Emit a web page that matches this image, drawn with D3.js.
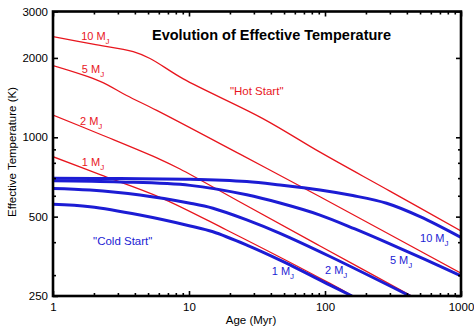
<!DOCTYPE html>
<html>
<head>
<meta charset="utf-8">
<script src="https://cdnjs.cloudflare.com/ajax/libs/d3/7.8.5/d3.min.js"></script>
<style>
  body { margin: 0; background: #fff; }
  svg text { font-family: "Liberation Sans", Arial, Helvetica, sans-serif; }
</style>
</head>
<body>
<div id="chart"></div>
<script>
// cooling tracks, each point is [age (Myr), Teff (K)]
const hot10 = [[1, 2408], [1.97, 2255], [3.89, 2113], [5.17, 1990], [9.08, 1665], [35.2, 1175], [91.9, 878], [300, 625], [1000, 441]]
const hot5 = [[1, 1870], [2.22, 1630], [3.48, 1440], [5.79, 1265], [23.7, 863], [91.9, 595], [1000, 305]]
const hot2 = [[1, 1215], [2.22, 1027], [6.12, 825], [8.59, 758], [23.7, 568], [91.9, 387], [434, 250]]
const hot1 = [[1, 844], [2.22, 722], [6.12, 592], [18.9, 445], [108.8, 279], [160, 250]]

const cold10 = [[1, 699], [3.11, 697], [10.2, 693], [26.6, 679], [46.7, 659], [91.9, 631], [160, 601], [284, 562], [500, 500], [1000, 417]]
const cold5 = [[1, 684], [3.11, 677], [10.2, 657], [26.6, 605], [46.7, 563], [91.9, 507], [166, 449], [300, 394], [543, 344], [1000, 298]]
const cold2 = [[1, 640], [1.87, 631], [4.36, 604], [10.2, 562], [15.0, 538], [26.6, 486], [46.7, 432], [108.8, 353], [422, 250]]
const cold1 = [[1, 557], [1.87, 545], [4.36, 507], [10.2, 461], [15.0, 438], [26.6, 390], [46.7, 342], [108.8, 275], [158, 250]]

// mass labels, anchored at [age, Teff] of the text start
const hotLabels = [
  { mass: "10", age: 1.61, temp: 2342 },
  { mass: "5", age: 1.63, temp: 1754 },
  { mass: "2", age: 1.58, temp: 1113 },
  { mass: "1", age: 1.63, temp: 778 }
]
const coldLabels = [
  { mass: "10", age: 500, temp: 402 },
  { mass: "5", age: 300, temp: 332 },
  { mass: "2", age: 100, temp: 303 },
  { mass: "1", age: 40.6, temp: 300 }
]

const ageTicks = [1, 10, 100, 1000]
const tempTicks = [250, 500, 1000, 2000, 3000]
const tempMinor = [300, 400, 600, 700, 800, 900]

const red = "#e8161e"
const blue = "#1c1cd4"

const width = 474
const height = 331
const margin = { top: 11.5, right: 13, bottom: 35, left: 53 }

const svg = d3.select("#chart")
  .append("svg")
  .attr("width", width)
  .attr("height", height)

const x = d3.scaleLog()
  .domain([1, 1000])
  .range([margin.left, width - margin.right])
const y = d3.scaleLog()
  .domain([250, 3000])
  .range([height - margin.bottom, margin.top])

// minor age ticks 2..9 in each decade
const ageMinor = []
for (const dec of [1, 10, 100]) {
  for (let k = 2; k <= 9; k++) ageMinor.push(dec * k)
}

svg.append("clipPath")
  .attr("id", "plot")
  .append("rect")
  .attr("x", x(1))
  .attr("y", y(3000))
  .attr("width", x(1000) - x(1))
  .attr("height", y(250) - y(3000))

const line = d3.line()
  .x(d => x(d[0]))
  .y(d => y(d[1]))
  .curve(d3.curveCatmullRom.alpha(0.5))

const tracks = svg.append("g").attr("clip-path", "url(#plot)")

tracks.selectAll(".hot")
  .data([hot10, hot5, hot2, hot1])
  .join("path")
  .attr("class", "hot")
  .attr("d", line)
  .attr("fill", "none")
  .attr("stroke", red)
  .attr("stroke-width", 1.3)

tracks.selectAll(".cold")
  .data([cold10, cold5, cold2, cold1])
  .join("path")
  .attr("class", "cold")
  .attr("d", line)
  .attr("fill", "none")
  .attr("stroke", blue)
  .attr("stroke-width", 3)

// axes: ticks point inward
function ticks(axis, values, size, transform) {
  const g = svg.append("g")
    .attr("transform", transform)
    .call(axis.tickValues(values).tickSize(size).tickFormat(""))
  g.select(".domain").remove()
  g.selectAll("line").attr("stroke", "#000").attr("stroke-width", 1.6)
  return g
}
const bottomY = `translate(0,${y(250)})`
const topY = `translate(0,${y(3000)})`
const leftX = `translate(${x(1)},0)`
const rightX = `translate(${x(1000)},0)`

ticks(d3.axisBottom(x), ageTicks, -5, bottomY)
ticks(d3.axisBottom(x), ageMinor, -3, bottomY)
ticks(d3.axisTop(x), ageTicks, -5, topY)
ticks(d3.axisTop(x), ageMinor, -3, topY)
ticks(d3.axisLeft(y), tempTicks, -5, leftX)
ticks(d3.axisLeft(y), tempMinor, -3, leftX)
ticks(d3.axisRight(y), tempTicks, -5, rightX)
ticks(d3.axisRight(y), tempMinor, -3, rightX)

// tick labels
svg.append("g")
  .attr("transform", bottomY)
  .call(d3.axisBottom(x).tickValues(ageTicks).tickSize(0).tickPadding(7).tickFormat(d3.format("d")))
  .call(g => g.select(".domain").remove())
  .selectAll("text")
  .attr("font-size", 11.5)
  .attr("font-family", null)
  .attr("fill", "#000")

svg.append("g")
  .attr("transform", leftX)
  .call(d3.axisLeft(y).tickValues(tempTicks).tickSize(0).tickPadding(5).tickFormat(d3.format("d")))
  .call(g => g.select(".domain").remove())
  .selectAll("text")
  .attr("font-size", 11.5)
  .attr("font-family", null)
  .attr("fill", "#000")

// frame
svg.append("rect")
  .attr("x", x(1))
  .attr("y", y(3000))
  .attr("width", x(1000) - x(1))
  .attr("height", y(250) - y(3000))
  .attr("fill", "none")
  .attr("stroke", "#000")
  .attr("stroke-width", 2.6)

// "10 M_J" style labels
function massLabel(sel, color) {
  sel.attr("x", d => x(d.age))
    .attr("y", d => y(d.temp))
    .attr("fill", color)
    .attr("font-size", 11)
  sel.append("tspan").text(d => d.mass + " M")
  sel.append("tspan")
    .attr("dy", 4)
    .attr("font-size", 8)
    .text("J")
}

svg.selectAll(".hot-label")
  .data(hotLabels)
  .join("text")
  .attr("class", "hot-label")
  .call(massLabel, red)

svg.selectAll(".cold-label")
  .data(coldLabels)
  .join("text")
  .attr("class", "cold-label")
  .call(massLabel, blue)

svg.append("text")
  .attr("x", x(20))
  .attr("y", y(1447))
  .attr("fill", red)
  .attr("font-size", 11.5)
  .text("\"Hot Start\"")

svg.append("text")
  .attr("x", x(1.97))
  .attr("y", y(390))
  .attr("fill", blue)
  .attr("font-size", 11.5)
  .text("\"Cold Start\"")

svg.append("text")
  .attr("x", 152)
  .attr("y", 40)
  .attr("font-size", 14.5)
  .attr("font-weight", "bold")
  .text("Evolution of Effective Temperature")

svg.append("text")
  .attr("x", 251)
  .attr("y", 324)
  .attr("text-anchor", "middle")
  .attr("font-size", 11.5)
  .text("Age (Myr)")

svg.append("text")
  .attr("transform", "translate(16,152) rotate(-90)")
  .attr("text-anchor", "middle")
  .attr("font-size", 11.5)
  .text("Effective Temperature (K)")
</script>
</body>
</html>
